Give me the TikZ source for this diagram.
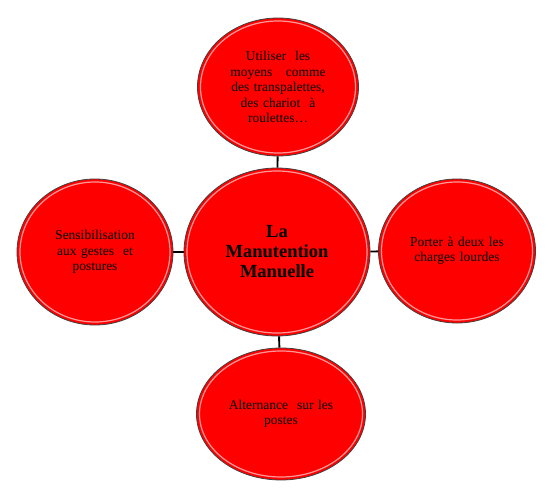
\documentclass[tikz,border=0pt]{standalone}
\usepackage{fontspec}
\setmainfont{Liberation Serif}
\usetikzlibrary{shapes.geometric,calc}

\tikzset{
  bulle/.style={ellipse, fill=red, draw=black!75, line width=0.8pt, inner sep=0pt,
    align=center, font=\fontsize{13.5}{15.5}\selectfont,
    path picture={\draw[white,opacity=.6,line width=1.2pt]
      let \p1=(path picture bounding box.north east),
          \p2=(path picture bounding box.south west) in
      ($(\p1)!.5!(\p2)$) ellipse ({(\x1-\x2)/2-3pt} and {(\y1-\y2)/2-3pt});}},
  lien/.style={line width=1.9pt}
}

\begin{document}
\begin{tikzpicture}[x=1pt,y=-1pt]
    \useasboundingbox (0,0) rectangle (550,498);
    \coordinate (C) at (277,250);
    \coordinate (H) at (278,87);
    \coordinate (G) at (95,252);
    \coordinate (D) at (457,251);
    \coordinate (B) at (281,414);
    % centre
    \node[bulle, minimum width=186pt, minimum height=168pt, text width=120pt,
      font=\fontsize{18.5}{20}\selectfont\bfseries] (centre) at ([yshift=-2pt]C) {La\\Manutention\\Manuelle};
    % autour
    \node[bulle, minimum width=161pt, minimum height=138pt, text width=104pt] (haut) at (H)
      {Utiliser~~les\\moyens~~~comme\\des transpalettes,\\des chariot~~à\\roulettes\dots};
    \node[bulle, minimum width=156pt, minimum height=146pt, text width=100pt] (gauche) at (G)
      {Sensibilisation\\aux~gestes~~et\\postures};
    \node[bulle, minimum width=157pt, minimum height=144pt, text width=100pt] (droite) at (D)
      {Porter à deux les\\charges~lourdes};
    \node[bulle, minimum width=169pt, minimum height=132pt, text width=110pt] (bas) at (B)
      {Alternance~~sur les\\postes};
    \draw[lien] (haut)--(centre);
    \draw[lien] (centre)--(bas);
    \draw[lien] (gauche)--(centre);
    \draw[lien] (centre)--(droite);
  \end{tikzpicture}
\end{document}
